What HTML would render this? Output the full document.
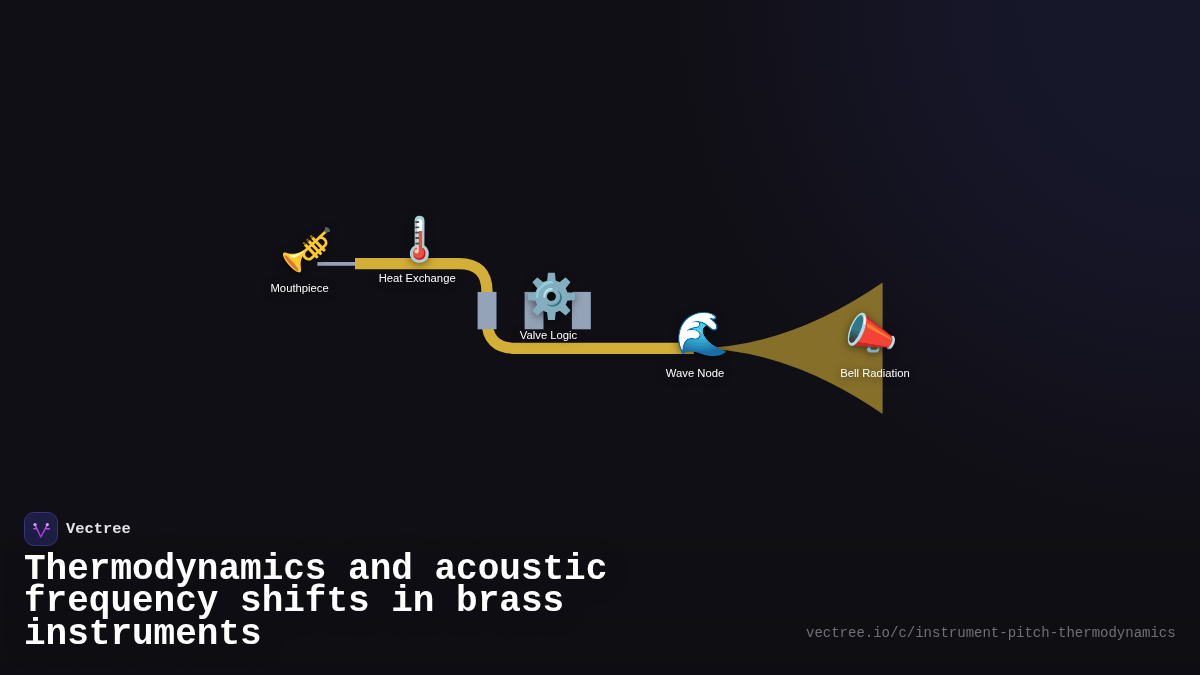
<!DOCTYPE html>
<html lang="en">
<head>
<meta charset="utf-8">
<title>Thermodynamics and acoustic frequency shifts in brass instruments</title>
<style>
html,body{margin:0;padding:0}
body{width:1200px;height:675px;overflow:hidden;position:relative;background:#100f15;
  font-family:"Liberation Sans",sans-serif;color:#fff}
.bg{position:absolute;left:0;top:0;width:1200px;height:675px;
  background:linear-gradient(to top, rgba(0,0,0,0.11) 0%, rgba(0,0,0,0) 27.7%),radial-gradient(circle 550px at 100% 0%, rgba(90,96,250,0.0920) 0px, rgba(90,96,250,0.0920) 170px, rgba(90,96,250,0.0865) 225px, rgba(90,96,250,0.0662) 300px, rgba(90,96,250,0.0488) 364px, rgba(90,96,250,0.0230) 451px, rgba(90,96,250,0.0064) 510px, rgba(90,96,250,0.0000) 550px)}
svg.diagram{position:absolute;left:0;top:0;width:1200px;height:675px}
.lbl{font-family:"Liberation Sans",sans-serif;font-size:11.25px;fill:#fff}
.lbl{filter:drop-shadow(0 1px 4px rgba(0,0,0,0.5))}
.em{filter:drop-shadow(0 2px 4px rgba(0,0,0,0.5))}
.brand{position:absolute;left:24px;top:512px;height:34px;display:flex;align-items:center}
.logo{width:32px;height:32px;border-radius:10px;background:#1e1d43;border:1px solid #37337c;position:relative}
.logo svg{position:absolute;left:-1px;top:-1px;width:34px;height:34px}
.brandname{margin-left:8px;font-family:"Liberation Mono",monospace;font-weight:bold;font-size:15.4px;color:#e4e4e8}
h1{position:absolute;left:24px;top:553.6px;margin:0;width:640px;font-family:"Liberation Mono",monospace;font-weight:bold;
  font-size:36px;line-height:32.4px;color:#fff;text-shadow:0 2px 28px rgba(0,0,0,0.3)}
.url{position:absolute;right:24px;top:625px;font-family:"Liberation Mono",monospace;font-size:14px;color:#707078}
.brand,h1,.url,svg.diagram{will-change:transform}
</style>
</head>
<body>
<div class="bg"></div>
<svg class="diagram" viewBox="0 0 1200 675">
  <!-- bell -->
  <path d="M693.5 348.3 Q 787 348.3 882.6 282.6 V 414 Q 787 348.3 693.5 348.3 Z" fill="#d4af37" fill-opacity="0.6"/>
  <!-- leadpipe -->
  <line x1="317.3" y1="263.75" x2="355.5" y2="263.75" stroke="#94a3b8" stroke-width="3.75"/>
  <!-- tube -->
  <path d="M355 263.55 H 458.9 Q 487 263.55 487 291.7 V 320.2 Q 487 348.3 515.1 348.3 H 693.8" fill="none" stroke="#d4af37" stroke-width="11.25"/>
  <!-- valves -->
  <rect x="477.6" y="291.9" width="18.900" height="37.4" fill="#94a3b8"/>
  <rect x="524.6" y="291.9" width="18.900" height="37.4" fill="#94a3b8"/>
  <rect x="571.9" y="291.9" width="18.900" height="37.4" fill="#94a3b8"/>
  <!-- icons -->
<g class="em"><g transform="translate(281.37 224.56) scale(0.3932)">
<path fill="#ffca28" fill-rule="evenodd" d="M111.8 17.5L109.2 15.9L108.2 15.6L108.4 17L87.2 36.8L80.9 30.1L79.8 30.4L80 31.1L79 32.6L76.5 34.6L75.5 34.8L75.4 35.4L81.5 42L81.5 42.2L78.1 45.2L72.6 39.4L71.8 38.9L71.1 39L71.1 39.8L70.6 40.8L68.1 43L67.6 43.2L66.8 43.1L66.5 43.4L66.5 44.1L67.5 45.5L72.4 50.8L69.1 53.9L68.9 53.9L63.2 47.9L62.6 47.5L61.9 47.5L61.8 48.5L61 49.6L59.1 51.4L58.2 51.9L57.2 51.9L57.1 52.6L57.9 53.8L63.2 59.4L58.8 63.6L55 66.2L50.8 68.8L45.5 71.1L40.9 72.6L36.4 73.6L32.4 74.1L24.9 74.2L21.9 74L16.5 73.1L10.1 71.2L8 70.9L6.8 71.1L4.9 72.6L4.2 74L4 75.4L4.4 78.9L5.8 83.1L8.6 88.9L11.8 93.8L16.8 100.2L22.8 106.9L26.4 110.4L31.5 114.8L38.1 119.2L41.5 120.9L44 121.6L45.9 121.8L47.5 121.2L49 119.8L50 117.5L49.8 110.8L49 103.8L49 99.1L49.5 94.2L50.6 89.1L51.5 86.4L53.2 82.2L54.2 80.5L55.5 83.2L57.1 85.5L59.5 87.8L62.4 89.6L65.5 90.9L67.8 91.4L71.5 91.5L73.1 91.2L75.1 90.6L77.8 89.1L84.9 82.5L88.8 86.2L90 86.4L92.1 85.1L94 83L94.4 81.4L93.9 80.4L90.8 77L94 73.9L94.2 73.9L97.8 77.5L99 77.9L99.9 77.6L101.4 76.6L103.4 74.4L103.6 73.9L103.6 72.6L103.2 71.9L100 68.4L103.2 65.2L106.5 68.6L107.2 69L108.6 68.9L110 68.1L111.1 67.1L112.5 65.2L112.6 64L112.1 63.1L109 59.9L113.8 55.2L115.8 52.4L116.8 49.9L117.1 48.1L117 44.1L115.9 40.5L114.5 37.9L112.9 35.8L111.1 34L108.4 32L106 30.9L104.5 30.5L104.4 30.2L113.2 22L114.6 22L114.6 21.6L113.4 19.2ZM9.6 80L13.1 82L17.9 85.9L24.4 92.2L29.2 97.6L34.5 104L38.5 109.6L41.8 115.4L42.1 116.4L42 116.9L39.2 115.4L34.2 111.4L27.4 104.8L23.4 100.4L17.8 93.6L14.2 88.9L10.8 83.2L9.5 80.2ZM49.8 73.2L45.5 76.5L40.4 79.6L35.8 81.8L31 83.1L28.6 83.2L27.8 83L24.5 81.1L21.8 78.6L21.9 78.4L24 78.6L29.6 78.6L35.4 77.9L41.2 76.5L45.6 75L49.5 73.1ZM68 64.6L80 77.2L73.6 83.4L71.4 84.4L69.9 84.5L68 84.2L66.2 83.6L64.5 82.6L63.4 81.8L61.9 80L61.1 78.5L60.6 76.5L60.6 74L61.1 72.2L61.9 70.9L63 69.4ZM77.2 55.9L89.2 68.5L89.2 68.8L85.9 71.9L73.9 59.1ZM86.1 47.5L86.5 47.4L98.4 60L95.1 63.2L83.1 50.5ZM97.6 37.4L99.1 37L101.6 37L103.6 37.5L104.9 38.1L107.8 40.6L108.6 41.8L109.6 43.8L110.1 45.8L110 47.5L109.6 48.6L108.5 50.5L104.2 54.6L102.4 52.9L92.1 41.9L95.9 38.4Z"/>
<path fill="#dd7341" fill-rule="evenodd" d="M8.2 78.6L8 79L8 80.2L8.5 81.8L11.4 87.1L16.6 94.5L22.2 101.2L30.5 109.9L35.1 114L40.1 117.6L42.1 118.5L43.2 118.4L43.6 117.9L43.5 116L41.2 111.4L36.8 104.6L30.4 96.8L25.5 91.4L20.5 86.4L16.9 83.1L11.9 79.5L9.8 78.5Z"/>
<path fill="#fff9c4" fill-rule="evenodd" d="M57 68.1L56.5 67.5L55.9 67.5L52.1 70.1L46.8 73L39.2 75.6L35.4 76.5L29.6 77.2L24 77.2L21 77L20 77.4L19.8 78.1L20.6 79.5L22.5 81.4L24.5 82.9L27.1 84.2L28.6 84.6L30.2 84.6L34.1 83.8L38.5 82.1L42.4 80.1L46.4 77.6L53.4 72.2L56.9 68.8Z"/>
<path fill="#616161" fill-rule="evenodd" d="M113.6 6.2L111.9 6.9L111.4 7.5L111 8.5L111.4 11.1L111.2 12L108.6 14.9L108.2 15.6L108.2 16.6L108.6 17.2L109.9 17.9L111.8 19.5L113.2 22L114.8 22L115.9 21.2L118 19L119.9 18.9L120.6 19.1L121.9 19.1L122.5 18.9L123.6 17.5L123.8 15.2L123.4 14L122.4 12.2L119.4 9L117.9 7.8L115.9 6.6Z"/>
<path fill="#9e740b" fill-rule="evenodd" d="M58 44L56.1 44.9L54.6 46.4L54 47.6L54 48.8L54.6 49.4L55.9 49.4L57 48.9L58.2 50.1L57.2 51.8L57.1 52.6L57.8 53.2L58.5 53.2L60 52.5L62.1 50.5L63.4 48.1L62.6 47.5L61.9 47.5L60.1 48.5L58.9 47.1L59.5 45.8L59.5 44.8L59.1 44.2ZM68.1 35.5L66.8 35.6L65.2 36.5L64.1 37.6L63.2 39.5L63.4 40.4L64 40.9L65.4 40.8L66.2 40.2L67.6 41.6L66.5 43.4L66.5 44.1L67.1 44.8L68.6 44.4L69.9 43.5L71.8 41.6L72.6 39.9L72.6 39.5L71.8 38.9L71 39L69.4 39.9L68.2 38.6L68.9 37.1L68.9 36.2ZM77 26.8L76 26.8L74.5 27.5L73.2 28.6L72.2 30.4L72.2 31.5L72.6 32L73.9 32.1L75.2 31.5L76.5 32.9L75.4 35L75.5 35.6L76.1 36.1L77.4 35.8L79.2 34.4L80.6 32.9L81.5 31.2L81.4 30.6L80.9 30.1L79.8 30.4L78.4 31.1L77.1 29.9L77.6 28.9L77.8 27.5Z"/>
</g></g>
<g class="em"><g transform="translate(394.28 214.17) scale(0.3932)">
<path fill="#a8d0d6" fill-rule="evenodd" d="M63 4.2L59.6 4.8L57.9 5.4L55.9 6.6L53.6 9.1L52.8 11L52.1 13.1L51.8 15.9L51.8 79.5L47.9 82.2L44.8 85.4L42 89.6L40.9 92.1L40 95.5L39.6 98.9L39.6 101.8L40.1 105.4L41.6 109.9L44 114L47.6 118L50.6 120.2L54.9 122.4L59.5 123.5L64.6 123.8L70.5 123L74.6 121.6L78.6 119.4L80.2 118.1L82.6 115.8L85.1 112.1L86.9 107.9L87.8 103.1L87.8 98L86.9 93.2L84.6 88.1L81.8 84.2L79.4 81.9L76.6 79.8L76.9 18.8L76.6 14.6L76.2 12.6L74.9 9.1L73.9 7.8L71.9 6L70.1 5.1L67.9 4.5ZM62.9 14.6L66.6 14.8L68 15.5L68.6 16.2L69.1 17.5L69.6 20.5L69.4 41.9L69.1 42.2L69.1 43.1L69.4 43.5L69.2 85.5L70.1 86.8L71.2 87L73 88.2L74.9 90.1L75.8 91.4L77.2 94.8L77.6 98.4L77.9 98.9L77.9 100.8L77.6 101.1L77.2 104.8L76.5 107L74.9 109.8L73.5 111.2L70.6 113.1L68.6 113.9L65.2 114.5L62.1 114.5L58.9 113.9L56.4 112.9L54.1 111.2L52.1 108.9L50.9 106.6L50.1 104.2L50.2 103.4L49.6 101.9L49.4 100.1L49.4 98.4L49.8 96L51 92.5L52.1 90.5L54.1 88.2L56.9 86.6L58.2 86.2L59.1 85L59.1 78L59.4 77.6L59.4 76.9L59.1 76.4L58.2 75.8L54.9 75.5L54.6 75.1L54.6 74.5L55 73.8L58.5 73.5L59.4 72.5L59.4 71.8L59.1 71.4L59.2 64L59.5 63.6L59.5 62.9L58.6 61.9L54.9 61.5L54.6 61.1L54.6 60.2L54.9 59.8L58.6 59.5L59.5 58.5L59.5 57.8L59.2 57.4L59.2 50.2L59.5 49.9L59.5 49.1L58.6 48.1L54.8 47.8L54.5 46.9L55 46L58.8 45.8L59.6 44.8L59.6 44L59.4 43.6L59.6 43.1L59.6 42.2L59.4 41.9L59.4 35.9L58.4 34.8L54.8 34.5L54.5 33.5L54.9 32.8L58.5 32.5L59.6 31.2L59.5 22.5L58.4 21.2L54.8 20.9L54.5 20L54.6 19.5L55.1 19.1L58.2 19L59.4 18.6L59.8 18.2L60.2 16.6L60.9 15.8L61.9 15Z"/>
<path fill="#e7523c" fill-rule="evenodd" d="M70.5 41.2L63 41.2L61.6 41.6L61 42.5L61 45L62 46.1L62.1 46.6L62 47.6L61 48.9L61 58.8L62 59.9L62.2 61L61.2 61.9L61 62.4L61.1 67.6L60.9 72.6L61.1 73.1L62.1 73.9L62.2 74.9L62.1 75.4L61.5 75.8L60.9 76.6L61 89.8L60.9 94L60.4 96.6L59.9 97.5L58.8 98.2L57 98.5L55.6 98.4L54.1 97.5L53.1 95.4L53.4 93.1L54.4 91.9L55.6 91.2L57.9 91L59 89.8L59.1 84.4L58.5 83.5L57.8 83.4L57.8 84.6L57.4 85.1L56.2 85.4L53.2 87.1L51 89.6L49.2 93L48.1 96.9L48.1 101.8L48.9 103.8L48.6 103.9L48.9 105.1L50.1 108.2L51.4 109.5L53.8 111.2L56.4 112.5L59.2 113.2L63.2 113.4L65.6 113L68.4 112.1L71.1 110.6L73.1 108.9L74.9 106.5L76.2 103.5L77.1 100.1L77.2 96.2L76.9 93.9L76.1 91.2L74.2 87.5L72.1 85.9L71.4 85.5L71 85.6L70.6 85.1L70.8 43L70.5 42.6L70.8 42.4L70.8 41.4Z"/>
<path fill="#ffffff" fill-rule="evenodd" d="M67.2 13.5L65.9 13.2L62.9 13.2L61.5 13.6L59.8 14.9L58.9 16.2L58.5 17.5L57.1 17.6L57.4 18.2L58.1 18.9L62 19.4L61.9 20.9L60.4 21.1L57.6 21.1L56.5 22.4L57.8 22.5L58.1 22.9L58.2 30.9L57.9 31.2L56.8 31.2L57 31.9L57.9 32.5L59.8 32.8L60.8 32.6L61.9 32.9L62.1 33.2L62.1 34L61.8 34.5L60.6 34.4L57.6 34.8L57.1 35L56.5 35.9L57.8 36L58 36.2L58 42.4L58.2 42.6L58 43L58 44L58.2 44.1L62.5 44.2L62.4 42.9L63 42.6L70.5 42.6L70.8 42.4L71 20.1L70.5 17.1L69.8 15.4L68.9 14.4Z"/>
<path fill="#fed0be" fill-rule="evenodd" d="M62.8 75.6L58 75.8L57.1 76L56.4 76.9L57.6 77L58 77.2L57.8 77.5L57.6 89.4L57.2 89.8L55.4 89.9L53.5 90.8L52.5 91.8L51.8 93.8L51.8 95.8L52.6 97.9L53.5 98.9L55 99.6L57 99.9L59.4 99.5L60.4 99L61 98.4L62 96.2L62.4 90.1L62.2 77L63.2 76.2L63.2 76ZM63 61.5L62.1 61.4L61.2 61.6L57.5 61.9L56.4 63.1L58.1 63.2L57.9 63.5L57.8 71.9L58 72.1L56.2 72.2L57.4 73.5L62.1 73.8L62.8 73.6L63.4 73.1L63 72.6L62.2 72.2L62.5 68L62.4 62.8L63.4 62ZM63 47.9L62 47.8L57.5 48.1L56.4 49.4L58.1 49.5L57.9 49.8L57.9 57.9L58.1 58.1L56.4 58.2L57.5 59.5L61.8 59.9L63 59.8L63.4 59.5L63.2 59.1L62.4 58.4L62.4 49.2L63.4 48.1ZM56.5 44.5L57.4 45.6L58.2 45.9L60.8 45.9L62.2 46.1L63.2 45.8L63.1 45.2L62.4 44.6L62.5 43L62.2 42.8L58.2 42.8L58 43L58 44.1L58.2 44.4Z"/>
<path fill="#4b4a51" fill-rule="evenodd" d="M53.2 74.1L53.2 75.5L53.5 76.1L54.2 76.8L55.6 77L62.2 77L63.2 76.2L63.6 75.2L63.5 73.2L63 72.6L62.2 72.2L54.9 72.4L54.1 72.6L53.6 73.1ZM53.2 59.9L53.2 61.5L53.6 62.4L54.1 62.8L55.2 63L60 63.1L62 62.9L62.9 62.5L63.6 61.4L63.4 59.4L62.5 58.5L60.2 58.2L54.9 58.4L54 58.6ZM53.1 46.5L53.2 48.1L53.9 48.9L56.4 49.4L60.6 49.4L62.5 49.1L63.2 48.4L63.5 47.6L63.4 45.8L62.4 44.6L56.4 44.5L54.4 44.8L53.6 45.2ZM53.1 33.1L53.2 34.9L53.9 35.6L54.5 35.9L57.9 36.1L60.6 35.8L62.1 35.9L63.2 35.1L63.5 34.4L63.5 32.9L63.2 32.2L62.6 31.6L61 31.2L59.8 31.4L58.5 31.2L58.1 31L57.9 31.2L54.6 31.4L53.5 32.1ZM63.4 18.9L62.6 18L62 17.8L60.8 17.9L60.4 17.6L58.4 17.5L54.4 17.9L53.6 18.4L53.2 19.1L53.1 20.8L53.4 21.5L54.4 22.2L57.9 22.6L58.2 22.4L60.8 22.5L61.1 22.2L62.1 22.2L63.2 21.5L63.5 20.4Z"/>
<path fill="#dd0b2b" fill-rule="evenodd" d="M71.4 85.5L71.1 85.6L73 88.1L74.8 91.6L75.5 94.2L75.9 96.6L75.9 98.8L75.5 101L74.9 103.1L73.8 105.6L71.6 108.4L69.5 110L67.8 110.9L64.2 111.9L60.1 112L57 111.2L53.9 109.6L50.4 106.5L48.6 103.9L49.5 107L51 109.8L53.2 112.4L55.5 114L58.2 115.1L62.1 115.9L65.2 115.9L68.2 115.4L71.2 114.4L73.4 113.1L75.4 111.4L76.9 109.4L78.2 106.4L79 103.4L79 101.5L79.2 101.1L79 96L78.1 92.9L76.4 89.8L74.4 87.5Z"/>
</g></g>
<g class="em"><g transform="translate(526.27 271.27) scale(0.3932)">
<path fill="#82aec0" fill-rule="evenodd" d="M56 4L55.4 4.2L55 4.8L53.1 22.9L52.6 23.8L48 25.4L43.2 27.6L42.6 27.4L28.2 15.8L27.6 15.8L15.9 27.4L15.8 28.2L16 28.8L26.9 42L27.5 43L27.5 43.6L25.5 47.6L23.9 52.4L23.2 53.1L4.8 55.1L4.2 55.5L4 56L4 71.9L4.2 72.5L4.9 72.9L22.9 74.8L23.8 75.4L25.2 79.8L27.4 84L27.5 85.1L15.8 99.6L15.8 100.4L27.4 112.1L28.4 112.1L42.1 101L43.4 100.4L46.9 102.1L52.4 104L53 104.5L55 123.1L55.4 123.6L56 123.9L71.9 123.9L72.5 123.6L72.9 123.1L74.8 105L75.2 104.2L79.2 102.9L84.6 100.4L85.8 101L99.4 112.1L100.2 112.2L112 100.6L112 99.4L100.4 85.1L100.4 84.4L102.6 79.8L104 75.6L104.6 74.9L122.2 73L123.6 72.5L123.9 71.9L123.9 56L123.1 55.1L104.6 53.1L104.1 52.6L102.4 47.6L100.4 43.6L100.4 43L111.5 29.2L112.1 28.2L112.1 27.6L100.5 15.9L99.5 15.9L85.2 27.4L84.5 27.6L80.1 25.5L75.5 24L75 23.6L74.8 23L72.9 4.8L72.5 4.2L71.9 4ZM87.1 59.4L88 61.6L88.6 64.8L88.8 68.6L88.5 70.6L87.8 73.8L86.9 76L85.9 77.9L83.5 81.1L79.8 84.5L77.4 86L74.1 87.4L71 88.1L68 88.4L64.5 88.1L62.2 87.6L62.2 87.4L65.9 87.4L70.2 86.6L73.1 85.6L75.4 84.5L77.9 82.9L81.9 79.1L84.9 74.8L86.1 72L86.8 70L87.4 66.4L87.4 61.8L87 59.8ZM62 52.8L64.9 52.6L66.6 52.9L68.5 53.5L70.2 54.5L72.9 57L73.8 58.2L74.5 59.8L75.1 62L75.2 65.1L75 66.6L74.5 68.2L73.2 70.5L70.9 73L69.6 73.9L68.1 74.6L65.9 75.2L62.9 75.4L61.4 75.1L59.8 74.6L57 73L54.4 70.1L53.4 68.2L52.8 66L52.6 62.9L52.9 61.4L53.4 59.8L54.6 57.5L57 55L58.2 54.1L59.8 53.4ZM65.1 44.2L65.6 45L65.6 45.8L65 46.5L59.4 47.6L56 48.9L53.5 50.4L50.6 53.1L49.4 54.9L48.1 57.5L47.1 60.9L46.4 66L45.6 66.1L45.2 65.2L45.2 62L46 57.6L47 54.8L48 52.8L49.9 50.1L52.5 47.6L54.1 46.5L56.9 45.1L60.8 44.1L64.8 44ZM66 27L66.5 27.8L66.5 28.5L66.1 29.5L65.6 30L64.9 30.2L59.4 30.8L57 31.2L50.9 33.2L47.5 34.9L43.9 37.1L40.9 39.5L38.4 41.9L36.4 44.1L33.9 47.6L31.2 52.6L30.1 55.5L29.2 58.9L28.8 62.2L28.6 66L28 66.9L27.2 66.9L26.6 66L26.8 62.2L27.4 57.8L28.8 52.5L30.4 48.4L32.1 45L35 40.8L37 38.4L40.2 35.2L43.5 32.8L46.5 30.9L51.6 28.5L56.2 27.1L61.4 26.4L64.4 26.2Z"/>
<path fill="#94d1e0" fill-rule="evenodd" d="M66 43.1L64.8 42.6L62 42.6L59.2 43L56.2 43.9L54.1 44.9L51.6 46.5L48.8 49.2L46.9 51.9L45.6 54.4L44.4 58.2L43.9 61.6L43.9 65.6L44.6 67.2L45.2 67.5L46.4 67.5L47.5 66.9L47.8 66.4L48.1 63.1L48.9 59.8L49.8 57.2L51.8 54L54.4 51.5L56.6 50.1L60 48.9L65 48L65.9 47.6L66.6 46.9L67.1 45.6L66.9 44.2ZM65 44.2L65.6 45.1L65.6 45.6L65.1 46.4L59.6 47.5L56.1 48.8L53.4 50.4L50.8 52.9L49.2 55L48.1 57.4L47.1 60.6L46.4 65.6L46.1 66L45.6 66L45.1 64.4L44.8 64L43.9 63.8L44.8 63.5L45.4 62.6L45.6 59.6L46.8 55.5L48 52.9L50.2 49.9L50.5 49L51.4 48.8L52.2 47.9L54.9 46.1L58.6 44.6L63.1 44ZM66.9 25.9L65.2 25L61.4 25L55.6 25.9L51 27.2L45.6 29.8L42.6 31.6L39.4 34.1L35.9 37.5L33.9 39.9L31 44.1L29 48L27.2 52.5L26 57.4L25.2 63.8L25.2 66.4L25.6 67.2L26.4 68L28.2 68.2L28.9 68L29.6 67.2L30 66.4L30.1 62.6L30.6 59.2L32.2 53.9L35 48.5L37.5 45L39.5 42.8L44.8 38.2L48.4 36L51.5 34.5L57.6 32.5L62.1 31.8L64.9 31.6L66.5 31.1L67.2 30.4L67.9 28.9L67.9 27.4Z"/>
<path fill="#30798a" fill-rule="evenodd" d="M81.5 49.5L80.9 49.1L80.5 49.4L82.4 51.8L83.5 53.6L84.6 56.1L85.4 58.5L86 62.1L86 66L85.5 69.1L84.8 71.6L83.2 74.8L81.4 77.5L78.2 80.8L76.1 82.4L72.5 84.4L69.6 85.4L65.9 86L60.5 85.9L56.5 84.9L53.2 83.4L52.1 82.6L51.8 82.9L53.9 84.9L56.6 86.8L59.8 88.2L62 89L66.9 89.8L70 89.6L74.8 88.6L78.2 87.1L82.4 84.2L85.2 81.2L87.5 77.9L89.4 73.2L90.1 69L90 64.4L89 60L87.5 56.6L85 52.9Z"/>
<path fill="#b9e4ea" fill-rule="evenodd" d="M65.9 43.1L64.2 42.6L61.4 42.8L59 43.1L56.1 44L53.1 45.5L51.4 46.8L49.1 48.9L46.9 52L45.4 55.1L44.5 58L44 60.9L43.9 65.1L44.1 66.2L44.8 67.2L46.8 67.4L47.5 66.8L48.5 61L49.5 57.8L50.4 55.9L51.9 53.8L54.2 51.5L56.8 50L60.2 48.8L65.2 47.9L66 47.5L67 46L67 44.8L66.5 43.8Z"/>
</g></g>
<g class="em"><g transform="translate(676.92 308.64) scale(0.3932)">
<path fill="#1b6da4" fill-rule="evenodd" d="M97.4 17.1L94 15L88.8 12.6L82.6 10.6L77 9.4L71.6 8.8L65.8 8.6L60.5 9L55.4 9.8L49.2 11.2L44.8 12.8L39.9 14.8L34.8 17.4L30.6 19.9L25.9 23.2L22.1 26.6L18.5 30.6L15.4 34.8L12.5 39.2L9.8 44.6L7.8 49.6L6.2 54.5L4.8 61.1L4 66.1L3.5 72.4L3.5 80.2L3.9 85.1L4.8 91.2L6.2 97.9L7.8 102.5L10.6 109.1L12.1 111.9L14.6 115.6L15.4 115.8L20.2 112.6L23.6 111.1L26.2 110.2L29.5 109.5L33.1 109L39 108.9L43.2 109.4L47.2 110.2L56.1 112.9L66.6 116.4L77.1 119.1L85.4 120.4L89.2 120.6L95.5 120.6L102.9 119.9L106.9 119L112 117.4L116.9 115.1L119.4 113.6L121.8 111.9L123.5 110.1L124.1 109.1L124.1 108.5L123.8 108.1L111.2 103.2L100.4 97.8L90.5 92.1L85.5 88.6L82.2 86L77.2 81.1L71.9 74.2L68.5 68.8L66.4 64.2L65.6 62L64.9 58.1L64.9 54.6L65.4 52.2L66 50.6L67.6 47.9L69.5 45.9L71.1 44.8L73.4 43.8L74.4 43.5L75.1 43.6L78.5 46L87 52.8L89.1 54.1L92 55.4L93.6 55.8L96.6 55.8L97.9 55.5L99.5 54.9L100.8 54L102.2 52L102.9 50.1L103 45.8L102.4 42.6L101.5 40.5L99.6 37.5L97.1 34.4L93.1 30.2L90.1 27.6L90.6 27.5L93.5 27.9L96.5 27.6L98.4 27L99.6 26.1L100.4 24.4L100.1 21.2L99.2 19.2Z"/>
<path fill="#217bae" fill-rule="evenodd" d="M17.4 99.8L17.5 100L20.9 101.5L21.4 101.5L22.6 102.1L25.4 102.9L27.1 103.6L27.8 103.6L32.2 105.1L33 105.1L38.4 106.5L48.1 108L55.1 108.5L64.6 108.5L69.5 108L71.6 108L75.9 107.2L77.1 107.2L84.2 105.9L86.6 105.1L87.4 105.1L89.4 104.4L90.5 104.2L96.2 102.2L96.8 102.2L98.2 101.5L98.8 101.5L102.5 100L103.4 99.4L91.5 92.8L85.5 88.6L81.2 85.1L77.2 81.1L71.9 74.2L69.2 70.1L66.4 64.2L65 59.1L64.9 54.6L65.4 52.2L66 50.6L68.2 47.1L70.5 45.1L72.4 44.1L74.2 43.6L74.5 43.2L66.8 39.1L59.5 36.2L59.4 36.8L60 38.2L60 39.9L59.2 42.8L57.8 45.5L55.6 47.5L54 48.5L51.8 49.2L44 50.2L41.4 50.8L38.4 51.8L39.4 52L42.4 52.1L45.8 52.8L50.1 54.2L53.2 56L54.9 57.2L57.1 59.5L59.2 62.6L60 64.6L60.4 67.8L60 70.5L58.8 73.2L58.1 74.1L55.6 76.5L53.9 77.5L51.6 78.2L49.1 78.6L35.8 78.2L32.1 78.9L28.6 80.4L26.9 81.6L24.4 84.1L22 87.4L19.2 93.2ZM94 19.1L90.8 16.9L87.5 15.2L82.1 13.2L78 12.2L70.9 11.4L65.2 11.4L57.6 12.2L53.8 13.1L49.2 14.5L43.2 16.9L37.5 19.6L32.9 22.4L29.4 24.9L26.2 27.5L23 30.8L19.8 34.6L16.8 38.9L14.6 42.5L12.2 47.5L10.1 53.4L8.9 57.9L8 61.9L7.2 66.9L6.8 74.1L6.8 77.9L7.5 85.8L8.1 89.4L9.5 95L11.6 101.4L13.1 104.8L13.4 104.8L13.6 100.9L14.4 96.8L15.2 93.4L17.2 87.9L18.9 84.9L20.1 83.1L24.4 78.8L27.2 76.8L30.9 75.1L34 74.4L38 74.1L41.2 74.4L44.5 75L48 75L50.8 74.4L54 72.6L55.4 71.2L56.6 68.9L56.9 67.9L56.9 65.8L56.4 64L55.2 62L52 58.8L50.1 57.5L48 56.5L45.5 55.8L41.5 55L36.4 54.9L33.5 55.1L30.2 55.8L26 57L25.4 57L25 56.6L25.2 55.6L27.8 53.2L31 51.1L34.8 49.2L41 47.1L48.8 46L51.4 45.4L53.9 44.2L55.4 42.9L56.4 40.5L56.4 38.4L55.9 37.1L54.9 36.1L53.6 35.5L50.1 34.8L45.6 34.6L42.4 35L38.5 36.2L38.1 35.9L38.5 34.9L39.8 33.8L42.4 32.5L45.2 31.8L48.9 31.2L54.8 31.2L58.5 31.8L62.1 32.6L67.4 34.6L73.5 38L77.9 41L87 48.2L90 50.2L93.6 51.5L96 51.5L97.6 50.8L98.8 49.6L99.5 47.8L99.5 44.9L98.4 41.5L97.1 39.2L95.2 36.8L91.5 33L85.8 28.1L84.1 26.5L83.4 25.1L83.6 24.1L84.1 23.6L84.9 23.4L87.2 23.4L92.2 24.2L93.5 24.2L95 23.8L95.6 22.9L95.8 21.5L95.2 20.5Z"/>
<path fill="#2689b8" fill-rule="evenodd" d="M19.1 93.6L19.4 93.5L24.6 95.8L25.1 95.8L26.4 96.4L27 96.4L30.8 97.8L39.4 99.9L50.2 101.5L57.9 101.9L69.4 101.5L74.1 100.8L75.5 100.8L86.2 98.5L90.4 97.1L91.4 97L95.6 95.4L96.1 95.4L97.5 96.1L92.8 93.5L88.2 90.6L81.2 85.1L75.6 79.2L70.6 72.4L67.2 66.2L65.6 62L64.9 58.1L64.9 54.6L65.4 52.2L66 50.6L68.2 47.1L70.5 45.1L72.4 44.1L74.2 43.6L74.5 43.2L66.8 39.1L59.6 36.2L59.4 36.4L59.4 36.8L60 38.2L60 39.9L59.2 42.8L57.8 45.5L55.6 47.5L54 48.5L51.8 49.2L44 50.2L41.4 50.8L38.4 51.8L39.4 52L42.4 52.1L45.8 52.8L50.1 54.2L53.2 56L54.9 57.2L57.1 59.5L59.1 62.4L60.1 64.9L60.1 65.9L60.4 65.9L60.2 67.4L60.5 67.6L60.2 67.9L60.4 69L60.1 69.2L60.1 70.2L59.4 71.9L59.5 72L58.5 73.8L58.1 74L58.2 74.1L55.8 76.5L53.2 77.8L51 78.4L49.1 78.6L44.6 78.6L40.6 78.2L35.8 78.2L33.1 78.6L29.8 79.8L27.9 80.9L27.6 81.2L27.5 81.1L27 81.8L26.9 81.6L23.8 84.9L23.9 85L23 85.9L23.1 86L22.8 86.2L22.9 86.4L22.5 86.6L22.6 86.8L22.2 87L21.4 88.5ZM94 19.1L90.8 16.9L87.5 15.2L82.1 13.2L78 12.2L70.9 11.4L65.2 11.4L57.6 12.2L53.8 13.1L49.2 14.5L43.2 16.9L37.5 19.6L32.9 22.4L29.4 24.9L26.2 27.5L23 30.8L19.8 34.6L16.8 38.9L14.6 42.5L12.2 47.5L10.1 53.4L8.9 57.9L8 61.9L7.2 66.9L6.8 74.1L6.8 77.9L7.5 85.8L8.1 89.4L9.5 95L11.6 101.4L13.1 104.8L13.4 104.8L13.6 100.9L14.4 96.8L15.2 93.4L17.2 87.9L18.9 84.9L20.1 83.1L24.4 78.8L27.2 76.8L30.9 75.1L34 74.4L38 74.1L41.2 74.4L44.5 75L48 75L50.8 74.4L54 72.6L55.4 71.2L56.6 68.9L56.9 67.9L56.9 65.8L56.4 64L55.2 62L52 58.8L50.1 57.5L48 56.5L45.5 55.8L41.5 55L36.4 54.9L33.5 55.1L30.2 55.8L26 57L25.4 57L25 56.6L25.2 55.6L27.8 53.2L31 51.1L34.8 49.2L41 47.1L48.8 46L51.4 45.4L53.9 44.2L55.4 42.9L56.4 40.5L56.4 38.4L55.9 37.1L54.9 36.1L53.6 35.5L50.1 34.8L45.6 34.6L42.4 35L38.5 36.2L38.1 35.9L38.5 34.9L39.8 33.8L42.4 32.5L45.2 31.8L48.9 31.2L54.8 31.2L58.5 31.8L62.1 32.6L67.4 34.6L73.5 38L77.9 41L87 48.2L90 50.2L93.6 51.5L96 51.5L97.6 50.8L98.8 49.6L99.5 47.8L99.5 44.9L98.4 41.5L97.1 39.2L95.2 36.8L91.5 33L85.8 28.1L84.1 26.5L83.4 25.1L83.6 24.1L84.1 23.6L84.9 23.4L87.2 23.4L92.2 24.2L93.5 24.2L95 23.8L95.6 22.9L95.8 21.5L95.2 20.5Z"/>
<path fill="#2c97c2" fill-rule="evenodd" d="M74.5 43.2L66.8 39.1L59.5 36.2L59.4 36.8L60 38.2L60 39.9L59.2 42.8L57.8 45.5L55.6 47.5L54 48.5L51.8 49.2L44 50.2L41.4 50.8L38.5 51.6L38.4 51.9L41.4 52L44.5 52.5L48.5 53.6L51.9 55.1L54.9 57.2L57.8 60.2L59.1 62.4L59.5 63.5L59.9 63.9L59.8 64.1L60 64.1L59.9 64.5L60.1 64.9L60.1 65.9L60.4 65.9L60.2 67.4L60.5 67.6L60.2 67.9L60.2 69.8L60 70L60 70.8L59.6 71.2L59.4 72.4L58.1 74L58.2 74.1L56.8 75.5L56.8 75.8L56.2 76.1L56.1 76L55 77L54.6 77L54.4 77.4L54.2 77.2L51.6 78.2L49.1 78.6L35.8 78.2L33.1 78.6L29.8 79.8L27.9 80.9L27.6 81.2L27.5 81.1L27.4 81.5L27 81.8L26.9 81.6L25.2 83.2L22.6 86.6L22.5 87.2L28.9 89.8L37 92.1L37.8 92.1L39.8 92.8L40.6 92.8L43.6 93.5L44.8 93.5L47.9 94.1L55.2 94.8L64.5 94.8L71.9 94.1L80.5 92.6L85.6 91.4L87.9 90.5L81.2 85.1L77.2 81.1L74.6 78L71.9 74.2L69.2 70.1L67.2 66.2L65.6 62L64.9 58.1L64.9 54.6L65.4 52.2L66 50.6L67.6 47.9L69.5 45.9L71.1 44.8L73.4 43.8L74.2 43.6ZM94 19.1L90.8 16.9L87.5 15.2L82.1 13.2L78 12.2L70.9 11.4L65.2 11.4L57.6 12.2L53.8 13.1L49.2 14.5L43.2 16.9L37.5 19.6L32.9 22.4L29.4 24.9L26.2 27.5L23 30.8L19.8 34.6L16.8 38.9L14.6 42.5L12.2 47.5L10.1 53.4L8.9 57.9L8 61.9L7.2 66.9L6.8 74.1L6.8 77.9L7.5 85.8L8.1 89.4L9.5 95L11.1 100L13 104.6L13.1 104.4L13.4 104.8L13.6 100.9L15 94.2L17.2 87.9L18.9 84.9L20.1 83.1L24.4 78.8L27.2 76.8L30.9 75.1L34 74.4L38 74.1L41.2 74.4L44.5 75L48 75L50.8 74.4L54 72.6L55.4 71.2L56.6 68.9L56.9 67.9L56.9 65.8L56.4 64L55.2 62L52 58.8L50.1 57.5L48 56.5L45.5 55.8L41.5 55L36.4 54.9L33.5 55.1L30.2 55.8L26 57L25.4 57L25 56.6L25.2 55.6L27.8 53.2L31 51.1L34.8 49.2L41 47.1L48.8 46L51.4 45.4L53.9 44.2L55.4 42.9L56.4 40.5L56.4 38.4L55.9 37.1L54.9 36.1L53.6 35.5L50.1 34.8L45.6 34.6L42.4 35L38.5 36.2L38.1 35.9L38.5 34.9L39.8 33.8L42.4 32.5L45.2 31.8L48.9 31.2L54.8 31.2L58.5 31.8L62.1 32.6L67.4 34.6L73.5 38L77.9 41L87 48.2L90 50.2L93.6 51.5L96 51.5L97.6 50.8L98.8 49.6L99.5 47.8L99.5 44.9L98.4 41.5L97.1 39.2L95.2 36.8L91.5 33L85.8 28.1L84.1 26.5L83.4 25.1L83.6 24.1L84.1 23.6L84.9 23.4L87.2 23.4L92.2 24.2L93.5 24.2L95 23.8L95.6 22.9L95.8 21.5L95.2 20.5Z"/>
<path fill="#31a5cd" fill-rule="evenodd" d="M38.4 51.8L39.4 52L42.4 52.1L47 53.1L51.9 55.1L54.9 57.2L57.8 60.2L59.1 62.4L59.6 63.8L59.9 63.8L59.8 64.1L60 64.1L59.9 64.5L60.2 65.2L60.1 65.9L60.2 65.6L60.4 65.8L60.2 67.4L60.5 67.5L60.2 67.9L60.4 69.2L60.1 69.2L60.2 69.9L60 70L60.1 70.4L59.8 71L59.9 71.2L59.6 71.2L59.8 71.5L59.1 72.5L59.2 72.6L58.9 72.9L58.9 73.2L58.5 73.5L58.6 73.6L58.1 74L58.2 74.1L57.8 74.8L56.8 75.5L56.8 75.8L56.2 76.1L56.1 76L55.2 76.9L55.1 76.8L55.1 77L54.9 76.9L54.4 77.4L54.2 77.2L52.1 78.1L49.1 78.6L44.6 78.6L40.6 78.2L34.5 78.4L31 79.2L29.5 79.9L27.8 81L34.4 83.4L35.5 83.5L36.6 84L37.9 84.1L40.1 84.9L47.6 86.2L49.1 86.2L51.1 86.6L55.4 87L64.2 87L72 86.2L80.6 84.6L83.4 86.9L81.2 85.1L77.2 81.1L71.9 74.2L69.2 70.1L66.4 64.2L65.2 60.5L64.9 58.1L64.9 54.6L65.4 52.2L66.4 49.9L67.6 47.9L69.5 45.9L71.1 44.8L73.4 43.8L74.2 43.6L74.5 43.2L66.8 39.1L59.5 36.2L59.4 36.8L60 38.2L60 39.9L59.2 42.8L57.8 45.5L55.6 47.5L54 48.5L51.8 49.2L44 50.2L41.4 50.8ZM94 19.1L90.8 16.9L87.5 15.2L82.1 13.2L78 12.2L70.9 11.4L65.2 11.4L57.6 12.2L53.8 13.1L49.2 14.5L43.2 16.9L37.5 19.6L32.9 22.4L29.4 24.9L26.2 27.5L23 30.8L19.8 34.6L16.8 38.9L14.6 42.5L12.2 47.5L10.1 53.4L8.9 57.9L8 61.9L7.2 66.9L6.8 74.1L6.8 77.9L7.5 85.8L8.1 89.4L9.5 95L11.1 100L13 104.6L13.1 104.4L13.4 104.8L13.6 100.9L15 94.2L17.2 87.9L18.9 84.9L20.1 83.1L24.4 78.8L27.2 76.8L30.9 75.1L34 74.4L38 74.1L41.2 74.4L44.5 75L48 75L50.8 74.4L54 72.6L55.4 71.2L56.6 68.9L56.9 67.9L56.9 65.8L56.4 64L55.2 62L52 58.8L50.1 57.5L48 56.5L45.5 55.8L41.5 55L36.4 54.9L33.5 55.1L30.2 55.8L26 57L25.4 57L25 56.6L25.2 55.6L27.8 53.2L31 51.1L34.8 49.2L41 47.1L48.8 46L51.4 45.4L53.9 44.2L55.4 42.9L56.4 40.5L56.4 38.4L55.9 37.1L54.9 36.1L53.6 35.5L50.1 34.8L45.6 34.6L42.4 35L38.5 36.2L38.1 35.9L38.5 34.9L39.8 33.8L42.4 32.5L45.2 31.8L48.9 31.2L54.8 31.2L58.5 31.8L62.1 32.6L67.4 34.6L73.5 38L77.9 41L87 48.2L90 50.2L93.6 51.5L96 51.5L97.6 50.8L98.8 49.6L99.5 47.8L99.5 44.9L98.4 41.5L97.1 39.2L95.2 36.8L91.5 33L85.8 28.1L84.1 26.5L83.4 25.1L83.6 24.1L84.1 23.6L84.9 23.4L87.2 23.4L92.2 24.2L93.5 24.2L95 23.8L95.6 22.9L95.8 21.5L95.2 20.5Z"/>
<path fill="#39b9da" fill-rule="evenodd" d="M38.6 51.6L38.6 51.9L41.4 52L45.9 52.8L49.9 54.1L52.4 55.4L55.6 57.9L58.5 61.2L59.5 63.4L59.5 63.1L59.8 63.1L59.6 63.8L59.8 63.6L59.8 64L60 64.1L59.9 64.4L60.2 65.2L60.1 65.8L60.4 65.8L60.2 66.5L60.5 67.5L60.4 69.2L59.9 71.2L58.9 73.2L57.8 74.8L56.1 76.2L54.8 77.2L54.2 77.4L54.4 77.6L66.8 77.6L73.4 76.6L73.1 75.9L69.2 70.1L66.4 64.2L65 59.1L64.9 54.6L65.4 52.2L66 50.6L68.2 47.1L70.5 45.1L72.4 44.1L74.2 43.6L74.5 43.2L66.8 39.1L62.6 37.4L59.5 36.4L59.4 36.6L60 38.1L60.1 39.4L59.4 42.5L57.8 45.5L55.5 47.6L53.8 48.6L51.4 49.4L44 50.2ZM94 19.1L90.8 16.9L87.5 15.2L82.1 13.2L78 12.2L70.9 11.4L65.2 11.4L57.6 12.2L53.8 13.1L49.2 14.5L43.2 16.9L37.5 19.6L32.9 22.4L29.4 24.9L26.2 27.5L23 30.8L19.8 34.6L16.8 38.9L14.6 42.5L12.2 47.5L10.1 53.4L8.9 57.9L8 61.9L7.2 66.9L6.8 74.1L6.8 77.9L7.5 85.8L8.1 89.4L9.5 95L11.1 100L13 104.6L13.1 104.4L13.4 104.8L13.6 100.9L15 94.2L17.2 87.9L18.9 84.9L20.1 83.1L24.4 78.8L27.2 76.8L30.9 75.1L34 74.4L38 74.1L41.2 74.4L44.5 75L48 75L50.8 74.4L54 72.6L55.4 71.2L56.6 68.9L56.9 67.9L56.9 65.8L56.4 64L55.2 62L52 58.8L50.1 57.5L48 56.5L45.5 55.8L41.5 55L36.4 54.9L33.5 55.1L30.2 55.8L26 57L25.4 57L25 56.6L25.2 55.6L27.8 53.2L31 51.1L34.8 49.2L41 47.1L48.8 46L51.4 45.4L53.9 44.2L55.4 42.9L56.4 40.5L56.4 38.4L55.9 37.1L54.9 36.1L53.6 35.5L50.1 34.8L45.6 34.6L42.4 35L38.5 36.2L38.1 35.9L38.5 34.9L39.8 33.8L42.4 32.5L45.2 31.8L48.9 31.2L54.8 31.2L58.5 31.8L62.1 32.6L67.4 34.6L73.5 38L77.9 41L87 48.2L90 50.2L93.6 51.5L96 51.5L97.6 50.8L98.8 49.6L99.5 47.8L99.5 44.9L98.4 41.5L97.1 39.2L95.2 36.8L91.5 33L85.8 28.1L84.1 26.5L83.4 25.1L83.6 24.1L84.1 23.6L84.9 23.4L87.2 23.4L92.2 24.2L93.5 24.2L95 23.8L95.6 22.9L95.8 21.5L95.2 20.5Z"/>
<path fill="#81afcd" fill-rule="evenodd" d="M38.6 51.6L38.6 51.9L41.4 52L45.9 52.8L49.9 54.1L52.4 55.4L55.1 57.4L57.2 59.6L58.8 61.6L59.5 63.4L59.9 62.9L65.8 62.6L66.2 63.8L65.2 60.5L64.9 58.1L64.9 54.6L65.4 52.2L66 50.6L67.6 47.9L69.5 45.9L71.1 44.8L73.4 43.8L74.2 43.6L74.5 43.2L66.8 39.1L62.6 37.4L59.5 36.4L59.4 36.6L60 38.1L60.1 39.4L59.4 42.5L57.8 45.5L55.5 47.6L53.8 48.6L51.4 49.4L44 50.2ZM94 19.1L90.8 16.9L87.5 15.2L82.1 13.2L78 12.2L70.9 11.4L65.2 11.4L57.6 12.2L53.8 13.1L49.2 14.5L43.2 16.9L37.5 19.6L32.9 22.4L29.4 24.9L26.2 27.5L23 30.8L19.8 34.6L16.8 38.9L14.6 42.5L12.2 47.5L10.1 53.4L8.9 57.9L8 61.9L7.2 66.9L6.8 74.1L6.8 77.9L7.5 85.8L8.1 89.4L9.5 95L11.1 100L13 104.6L13.1 104.4L13.4 104.8L13.6 100.9L15 94.2L17.2 87.9L18.9 84.9L20.1 83.1L24.4 78.8L27.2 76.8L30.9 75.1L34 74.4L38 74.1L41.2 74.4L44.5 75L48 75L50.8 74.4L54 72.6L55.4 71.2L56.6 68.9L56.9 67.9L56.9 65.8L56.4 64L55.2 62L52 58.8L50.1 57.5L48 56.5L45.5 55.8L41.5 55L36.4 54.9L33.5 55.1L30.2 55.8L26 57L25.4 57L25 56.6L25.2 55.6L27.8 53.2L31 51.1L34.8 49.2L41 47.1L48.8 46L51.4 45.4L53.9 44.2L55.4 42.9L56.4 40.5L56.4 38.4L55.9 37.1L54.9 36.1L53.6 35.5L50.1 34.8L45.6 34.6L42.4 35L38.5 36.2L38.1 35.9L38.5 34.9L39.8 33.8L42.4 32.5L45.2 31.8L48.9 31.2L54.8 31.2L58.5 31.8L62.1 32.6L67.4 34.6L73.5 38L77.9 41L87 48.2L90 50.2L93.6 51.5L96 51.5L97.6 50.8L98.8 49.6L99.5 47.8L99.5 44.9L98.4 41.5L97.1 39.2L95.2 36.8L91.5 33L85.8 28.1L84.1 26.5L83.4 25.1L83.6 24.1L84.1 23.6L84.9 23.4L87.2 23.4L92.2 24.2L93.5 24.2L95 23.8L95.6 22.9L95.8 21.5L95.2 20.5Z"/>
<path fill="#43d2ed" fill-rule="evenodd" d="M38.6 51.6L38.6 51.9L41.4 52L45.9 52.8L49.9 54.1L52.4 55.4L55.1 57.4L57.2 59.6L58.8 61.6L59.5 63.4L59.9 62.9L65.8 62.6L66.2 63.8L65.2 60.5L64.9 58.1L64.9 54.6L65.4 52.2L66 50.6L67.6 47.9L69.5 45.9L71.1 44.8L73.4 43.8L74.2 43.6L74.5 43.2L66.8 39.1L62.6 37.4L59.5 36.4L59.4 36.6L60 38.1L60.1 39.4L59.4 42.5L57.8 45.5L55.5 47.6L53.8 48.6L51.4 49.4L44 50.2ZM94 19.1L90.8 16.9L87.5 15.2L82.1 13.2L78 12.2L70.9 11.4L65.2 11.4L57.6 12.2L53.8 13.1L49.2 14.5L43.2 16.9L37.5 19.6L32.9 22.4L29.4 24.9L26.2 27.5L23 30.8L19.8 34.6L16.8 38.9L14.6 42.5L12.2 47.5L10.1 53.4L8.9 57.9L8 61.9L7.2 66.9L6.8 74.1L6.8 77.9L7.5 85.8L8.1 89.4L9.5 95L11.1 100L13 104.6L13.1 104.4L13.4 104.8L13.6 100.9L15 94.2L17.2 87.9L18.9 84.9L20.1 83.1L24.4 78.8L27.2 76.8L30.9 75.1L34 74.4L38 74.1L41.2 74.4L44.5 75L48 75L50.8 74.4L54 72.6L55.4 71.2L56.6 68.9L56.9 67.9L56.9 65.8L56.4 64L55.2 62L52 58.8L50.1 57.5L48 56.5L45.5 55.8L41.5 55L36.4 54.9L33.5 55.1L30.2 55.8L26 57L25.4 57L25 56.6L25.2 55.6L27.8 53.2L31 51.1L34.8 49.2L41 47.1L48.8 46L51.4 45.4L53.9 44.2L55.4 42.9L56.4 40.5L56.4 38.4L55.9 37.1L54.9 36.1L53.6 35.5L50.1 34.8L45.6 34.6L42.4 35L38.5 36.2L38.1 35.9L38.5 34.9L39.8 33.8L42.4 32.5L45.2 31.8L48.9 31.2L54.8 31.2L58.5 31.8L62.1 32.6L67.4 34.6L73.5 38L77.9 41L87 48.2L90 50.2L93.6 51.5L96 51.5L97.6 50.8L98.8 49.6L99.5 47.8L99.5 44.9L98.4 41.5L97.1 39.2L95.2 36.8L91.5 33L85.8 28.1L84.1 26.5L83.4 25.1L83.6 24.1L84.1 23.6L84.9 23.4L87.2 23.4L92.2 24.2L93.5 24.2L95 23.8L95.6 22.9L95.8 21.5L95.2 20.5Z"/>
<path fill="#c1d8e6" fill-rule="evenodd" d="M94 19.1L90.8 16.9L87.5 15.2L82.1 13.2L78 12.2L70.9 11.4L65.2 11.4L57.6 12.2L53.8 13.1L49.2 14.5L43.2 16.9L37.5 19.6L32.9 22.4L29.4 24.9L26.2 27.5L23 30.8L19.8 34.6L16.8 38.9L14.6 42.5L12.2 47.5L10.1 53.4L8.9 57.9L8 61.9L7.2 66.9L6.8 74.1L6.8 77.9L7.5 85.8L8.1 89.4L9.5 95L11.1 100L13 104.6L13.1 104.4L13.4 104.8L13.6 100.9L15 94.2L17.2 87.9L18.9 84.9L20.1 83.1L24.4 78.8L27.2 76.8L30.9 75.1L34 74.4L38 74.1L41.2 74.4L44.5 75L48 75L50.8 74.4L54 72.6L55.4 71.2L56.6 68.9L56.9 67.9L56.9 65.8L56.4 64L55.2 62L52 58.8L50.1 57.5L48 56.5L45.5 55.8L41.5 55L36.4 54.9L33.5 55.1L30.2 55.8L26 57L25.4 57L25 56.6L25.2 55.6L27.8 53.2L31 51.1L34.8 49.2L41 47.1L48.8 46L51.4 45.4L53.9 44.2L55.4 42.9L56.4 40.5L56.4 38.4L55.9 37.1L54.9 36.1L53.6 35.5L50.1 34.8L45.6 34.6L42.4 35L38.5 36.2L38.1 35.9L38.5 34.9L39.8 33.8L42.4 32.5L45.2 31.8L48.9 31.2L54.8 31.2L58.5 31.8L62.1 32.6L67.4 34.6L73.5 38L77.9 41L87 48.2L90 50.2L93.6 51.5L96 51.5L97.6 50.8L98.8 49.6L99.5 47.8L99.5 44.9L98.4 41.5L97.1 39.2L95.2 36.8L91.5 33L85.8 28.1L84.1 26.5L83.4 25.1L83.6 24.1L84.1 23.6L84.9 23.4L87.2 23.4L92.2 24.2L93.5 24.2L95 23.8L95.6 22.9L95.8 21.5L95.2 20.5Z"/>
<path fill="#ffffff" fill-rule="evenodd" d="M94 19.1L90.8 16.9L87.5 15.2L82.1 13.2L78 12.2L70.9 11.4L65.2 11.4L57.6 12.2L53.8 13.1L49.2 14.5L43.2 16.9L37.5 19.6L32.9 22.4L29.4 24.9L26.2 27.5L23 30.8L19.8 34.6L16.8 38.9L14.6 42.5L12.2 47.5L10.1 53.4L8.9 57.9L8 61.9L7.2 66.9L6.8 74.1L6.8 77.9L7.5 85.8L8.1 89.4L9.5 95L11.1 100L13 104.6L13.1 104.4L13.4 104.8L13.6 100.9L15 94.2L17.2 87.9L18.9 84.9L20.1 83.1L24.4 78.8L27.2 76.8L30.9 75.1L34 74.4L38 74.1L41.2 74.4L44.5 75L48 75L50.8 74.4L54 72.6L55.4 71.2L56.6 68.9L56.9 67.9L56.9 65.8L56.4 64L55.2 62L52 58.8L50.1 57.5L48 56.5L45.5 55.8L41.5 55L36.4 54.9L33.5 55.1L30.2 55.8L26 57L25.4 57L25 56.6L25.2 55.6L27.8 53.2L31 51.1L34.8 49.2L41 47.1L48.8 46L51.4 45.4L53.9 44.2L55.4 42.9L56.4 40.5L56.4 38.4L55.9 37.1L54.9 36.1L53.6 35.5L50.1 34.8L45.6 34.6L42.4 35L38.5 36.2L38.1 35.9L38.5 34.9L39.8 33.8L42.4 32.5L45.2 31.8L48.9 31.2L54.8 31.2L58.5 31.8L62.1 32.6L67.4 34.6L73.5 38L77.9 41L87 48.2L90 50.2L93.6 51.5L96 51.5L97.6 50.8L98.8 49.6L99.5 47.8L99.5 44.9L98.4 41.5L97.1 39.2L95.2 36.8L91.5 33L85.8 28.1L84.1 26.5L83.4 25.1L83.6 24.1L84.1 23.6L84.9 23.4L87.2 23.4L92.2 24.2L93.5 24.2L95 23.8L95.6 22.9L95.8 21.5L95.2 20.5Z"/>
</g></g>
<g class="em"><g transform="translate(896.55 308.60) scale(-0.3932 0.3932)">
<path fill="#f44336" fill-rule="evenodd" d="M77.6 23.1L76.8 22.9L75.8 23.1L74.5 24.9L71.6 27.2L23.9 61.8L10.2 72L9.5 74.5L9.2 78.4L9.6 81.9L10.4 85L11.5 88.1L13.1 91.5L15.5 95.1L18.2 98.1L19.6 98.5L84.2 88.4L93 86.6L95.8 85.5L96.9 84.4L97.4 83.4L97.2 81.4L96.6 80.1L91.6 72.6L87.8 65.2L84.6 57.9L81.9 50L80.4 44.5L79 37.6L78.2 30.8L78.4 24.1ZM73.2 38.2L73.9 42.8L73.9 45.9L73.2 46.8L18.1 75.5L17.9 75.4L73 38.1Z"/>
<path fill="#b8dade" fill-rule="evenodd" d="M10.2 69.1L8.5 69.6L6.9 70.6L5.8 72L5 73.5L4.2 76.2L4 78.9L4.4 83.6L4.9 86L6.1 89.8L9 95.4L11 98L13.6 100.6L15.4 101.9L16.2 102L18.6 101.1L19.8 100L21 97.6L21 96.9L19.6 97.1L19.1 97L17.1 94.9L14.2 90.6L12.4 86.5L11.5 83.8L10.9 80.8L10.6 78L10.8 75.8L11.4 72.9L14.5 70.5L14.8 69.2L14.5 68.8L13.5 69.6L11.6 69.1ZM83.8 11L81.9 12.1L80.1 14L79 16.1L76.6 18.1L75.4 23.8L75.4 26L76.6 24.2L77 24.5L76.9 31.1L78 40.1L79.9 48.2L83.2 58.2L85.8 64.2L88.6 70.1L91.6 75.4L95.9 81.8L96 83L95.6 83.6L98.4 86.9L102.5 90.9L106.8 93.9L109.8 93.6L112.6 94.5L115.1 94.5L116.6 94.1L118.5 93.1L120.2 91.5L122 88.5L123.1 84.9L123.9 79.2L123.8 72.2L122.6 64.2L120.9 56.8L118 48L114.2 39.1L110.5 32L106.2 25.4L101.6 19.5L96.2 14.4L94.5 13.1L91.2 11.4L89 10.6L87 10.4L85.4 10.5ZM81.1 22.1L81.1 30L81.6 34.5L82.2 37.4L82.2 38.2L82 38.5L81.8 38.5L81.1 37.6L80.1 30.9L80.4 24.8L80.6 23.1ZM89.6 18.2L91.6 18.4L94.5 20L97.9 23.1L100.5 26.2L104 31.2L107.5 37.2L109.9 42.1L112.5 48.4L113.6 51.6L113.6 52.6L114.2 53.6L116.4 60.6L117.8 66.9L118.5 72.2L118.6 77.6L118.2 80.5L117.2 83.4L115.6 84.9L113.5 84.9L111.1 83.6L109.4 82.2L107 79.9L104.6 77L101 71.8L98.2 67L95.5 61.5L95.4 60.5L94.5 59.4L92.6 55.1L89.9 47.2L88.4 41.8L87.2 36.2L86.5 30.5L86.4 26.5L87 21.9L87.5 20.4L88.1 19.4Z"/>
<path fill="#2f7889" fill-rule="evenodd" d="M49.1 96.9L48.2 96.6L41.8 97L40.9 97.2L40.2 98.4L41.8 98.5L43.9 104L46.1 103.1L48.1 103.1L48.9 103.6L49.8 103.8L50.4 103.5L48.2 98.1L48.4 97.9L49.8 97.8ZM74 95.1L73.1 94.9L64.2 95.4L63.4 95.6L63 96L62.8 96.9L64.1 96.8L64.4 97L66.1 101.5L66.1 102.6L67.2 102.4L68.2 101.4L69.2 101L71.5 101L73.6 101.9L74.6 102L75 101.9L74.6 100.1L73.1 96.4L73.6 96.1L74.8 96.1ZM89.6 16.9L88.2 17.4L87 18.5L86.1 20L85.6 21.5L85 26.1L85.2 32.1L86.6 40.5L88.5 47.6L91.5 56.1L94.4 62.2L113.9 54L115.6 53.5L115.6 53.2L115 52.2L115 51.2L113.9 48L110.5 40.1L107.2 33.9L102.4 26.4L99 22.2L95.4 18.9L92.2 17.1L91.4 16.9Z"/>
<path fill="#c62828" fill-rule="evenodd" d="M109 93.4L106 91.8L102.4 88.9L98.2 84.6L96.1 81.9L95.9 81.9L96 83L94.9 84.4L93.5 85L90.4 85.9L70.8 89.2L20.4 96.9L19.6 97.1L18.9 98.6L20.5 99.9L22.2 100.8L24.2 101L25.5 99.2L46.8 98.1L56.4 97.2L94.6 94.9L108.8 93.8ZM78.6 16.8L78.4 16.6L12.9 70L12 70.9L11.4 72.6L11.5 72.8L24.8 62.9L74.1 27.1L75.6 25.8L76.9 24L77.6 19.6Z"/>
<path fill="#f97f2f" fill-rule="evenodd" d="M74.4 37L73.8 36.5L72.1 37L13.9 76.2L12.9 77.6L12.9 78.9L13.2 79.1L14.4 79L74.1 47.9L74.8 47.2L75.2 46.2L75.2 42.4L74.8 38.1Z"/>
<path fill="#82aec0" fill-rule="evenodd" d="M75.2 105.4L75.2 103L74.8 100.6L71.5 99.6L68.6 99.8L67.4 100.2L66.4 101.2L65.9 100.9L66.1 101.5L66.1 102.5L65.5 103.6L64.4 104.2L63.1 104.5L51.9 105.2L50.9 104.6L49.9 102.2L49.5 102.4L48.8 101.9L46.1 101.8L44.5 102.1L43.4 102.8L45.1 107.1L46.8 109.9L47.5 110.6L48.9 111.4L51.5 111.9L66.1 111.4L70.2 110.8L72 110L73.8 108.5L74.9 106.6ZM25.2 99.5L22.9 99.5L21.4 98.8L19.5 97.4L18.9 98.8L17.8 100L16.2 100.6L15.2 100.8L13.5 100.5L15.4 101.9L17.1 102.8L18.5 103.1L20.2 103.2L21.9 102.9L23.4 102L24.2 101.1Z"/>
<path fill="#316976" fill-rule="evenodd" d="M104.8 79.4L105.9 80.8L109.2 84L111 85.2L112.9 86.1L114 86.4L116.2 86.1L117.1 85.6L118.1 84.6L118.8 83.5L118 83.2L117.1 83.5L115.8 85.1L115 84.9L114 85L112.6 84.5L112.4 84.6L111.8 83.9L110.5 83.2L109.1 81.9L108.2 81.6L107.4 81.9L107.5 80.5L106.6 79.2L105.8 79ZM120 76.2L119.1 76.5L118.5 77.4L118 81.6L118.9 82.6L119.1 82.6L119.6 80.9ZM119.9 72.2L119 72.5L118.4 73.4L118.6 74.6L119 75L119.9 75.2ZM115 52.2L113.2 52.8L93.9 61L97.1 67.9L101.1 74.5L101.9 73.6L101.9 72.9L101 71.6L100.1 71.4L100.2 70.4L99.1 68.5L99.4 68.2L112 63.1L113.4 62.4L116.4 61.2L117.1 63.9L117.4 66.1L118 67L118.9 67.2L119.1 67.1L117.8 60.2L115.6 53.2Z"/>
<path fill="#325a64" fill-rule="evenodd" d="M117.4 59.5L116.4 59.6L115 60.4L112.8 61.1L111.4 61.9L107.6 63.2L97.5 67.6L97.4 68.1L101.4 74.9L101.8 75.1L104.1 74L119.2 67.9L118.2 62.4Z"/>
<path fill="#334c53" fill-rule="evenodd" d="M119 65.9L119 66.2L118.6 66.6L117 67.1L116.2 67.6L103.5 72.8L102.1 73.5L100.9 73.9L100.4 73.4L102.8 76.9L105 79.8L105.9 80.5L105.9 80.8L109.2 84L111 85.2L112.9 86.1L115.2 86.4L116.8 85.9L118.4 84.2L119.4 81.9L119.9 79.4L120 73.4ZM118.5 76.1L118.6 78.5L118.4 78.9L118 81.4L116.8 84.1L115.9 84.8L115 85L112.9 84.6L112.5 84.8L111.9 84L110.1 82.8L109.6 82.6L107.8 80.5L109 79.8L111.2 79L117.6 76.1Z"/>
<path fill="#343d40" fill-rule="evenodd" d="M119.9 73.9L119.8 73.8L110.6 77.8L108.4 78.5L105.4 80L106.1 81L109 83.8L111.2 85.4L112.2 85.9L114.4 86.4L116.5 86L118.2 84.4L119.4 81.8L119.9 79Z"/>
<path fill="#feffff" fill-rule="evenodd" d="M80.8 20.6L80 21.1L79.2 22.8L78.8 27.5L78.8 31.2L79.8 38L80.2 39L81 39.8L82 40L82.9 39.6L83.6 38.6L83.6 37L83 34.1L82.5 29.6L82.5 24.2L82.8 22.1L82.5 21.2L82 20.8Z"/>
</g></g>

  <!-- labels -->
  <text class="lbl" x="299.600" y="292" text-anchor="middle">Mouthpiece</text>
  <text class="lbl" x="417.200" y="282" text-anchor="middle">Heat Exchange</text>
  <text class="lbl" x="548.500" y="339" text-anchor="middle">Valve Logic</text>
  <text class="lbl" x="695" y="377" text-anchor="middle">Wave Node</text>
  <text class="lbl" x="875" y="377" text-anchor="middle">Bell Radiation</text>
</svg>
<div class="brand"><div class="logo"><svg viewBox="0 0 34 34">
<linearGradient id="vg" x1="0" y1="11" x2="0" y2="26" gradientUnits="userSpaceOnUse"><stop offset="0" stop-color="#d65cf0"/><stop offset="1" stop-color="#9a2fd0"/></linearGradient>
<path d="M11 12.700 L16.800 25.100 L23.300 12.700 M9.900 16.800 H12.800 M21.300 16.800 H25.400" fill="none" stroke="url(#vg)" stroke-width="1.4" stroke-linecap="round" stroke-linejoin="round"/>
<circle cx="11" cy="12.600" r="1.600" fill="#d9a0ee"/><circle cx="23.300" cy="12.600" r="1.600" fill="#d9a0ee"/>
</svg></div><div class="brandname">Vectree</div></div>
<h1>Thermodynamics and acoustic frequency shifts in brass instruments</h1>
<div class="url">vectree.io/c/instrument-pitch-thermodynamics</div>
</body>
</html>
